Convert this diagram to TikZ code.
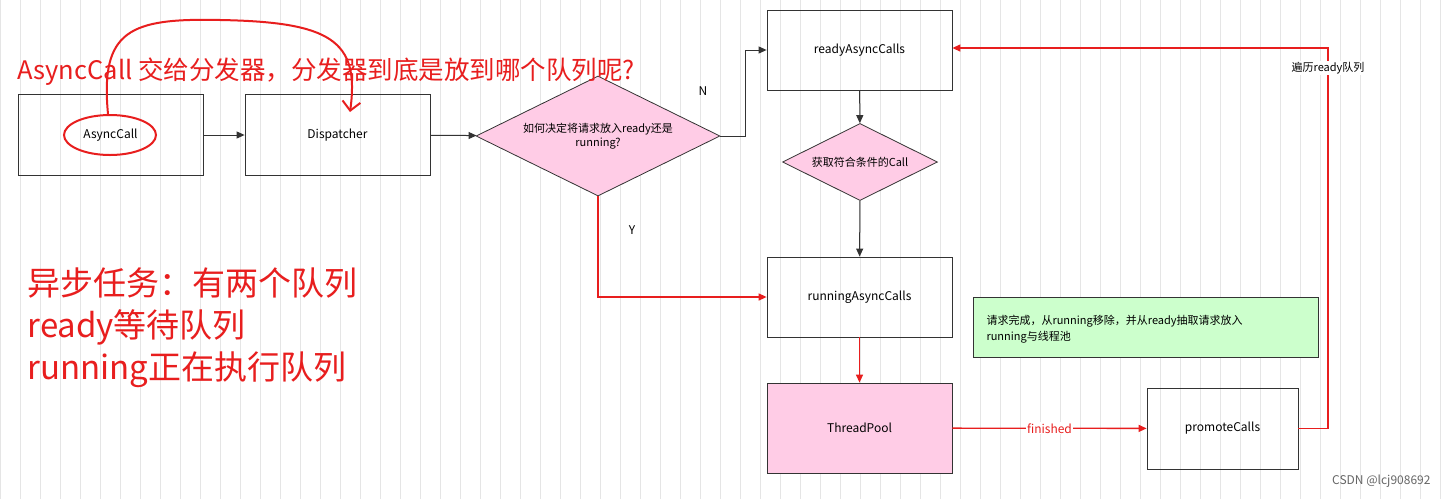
\documentclass[tikz,border=0pt]{standalone}
\usepackage{fontspec}
\setmainfont{Noto Sans CJK SC}
\usetikzlibrary{shapes.geometric,arrows.meta}
\definecolor{pinkf}{HTML}{FFCCE6}
\definecolor{greenf}{HTML}{CCFFCC}
\definecolor{rd}{HTML}{E81E1E}
\begin{document}
\begin{tikzpicture}[x=1pt,y=-1pt,
  box/.style={draw=black!80,line width=0.8pt,minimum width=185pt,minimum height=81pt,font=\fontsize{12}{14}\selectfont,inner sep=0pt},
  dia/.style={diamond,draw=black!80,line width=0.8pt,fill=pinkf,aspect=2,inner sep=0pt,font=\fontsize{11}{14}\selectfont,align=center},
  blk/.style={-{Triangle[length=8pt,width=7pt]},line width=1pt,black!80},
  red/.style={-{Triangle[length=8pt,width=7pt]},line width=1.3pt,rd},
  lbl/.style={font=\fontsize{12}{14}\selectfont,fill=white,inner sep=1pt},
  big/.style={text=rd,anchor=west,font=\fontsize{33}{36}\selectfont}]
\useasboundingbox (0,0) rectangle (1448,499);
\fill[white] (0,0) rectangle (1448,499);
\draw[black!10,line width=0.5pt] (0,0) grid[step=20] (1448,499);
\node[box] (async) at (110.5,135) {AsyncCall};
\draw[rd,line width=2pt] (110,135) ellipse [x radius=46,y radius=20];
\node[box] (disp) at (337.5,135) {Dispatcher};
\node[dia,minimum width=244pt,minimum height=120pt] (d1) at (598,136) {如何决定将请求放入ready还是\\running?};
\node[box,minimum height=80pt] (ready) at (859.5,50) {readyAsyncCalls};
\node[dia,minimum width=155pt,minimum height=77pt] (d2) at (860,162) {获取符合条件的Call};
\node[box,minimum height=80pt] (running) at (859.5,297) {runningAsyncCalls};
\node[box,fill=pinkf,minimum height=90pt] (pool) at (859.5,428) {ThreadPool};
\node[box,minimum width=151pt] (prom) at (1222.5,428.5) {promoteCalls};
\node[draw=black!80,fill=greenf,minimum width=345pt,minimum height=60pt,anchor=north west,inner sep=0pt] (note) at (973,297) {};
\node[anchor=north west,align=left,font=\fontsize{11}{16}\selectfont] (notet) at (983,312) {请求完成，从running移除，并从ready抽取请求放入\\running与线程池};
\draw[blk] (async) -- (disp);
\draw[blk] (disp) -- (d1);
\draw[blk] (d1.east) -- (745,136) -- (745,50) -- (ready.west);
\node[font=\fontsize{12}{14}\selectfont] (n) at (703,91) {N};
\draw[red] (d1.south) -- (598,297) -- (running.west);
\node[font=\fontsize{12}{14}\selectfont] (y) at (632,230) {Y};
\draw[blk] (ready) -- (d2);
\draw[blk] (d2) -- (running);
\draw[red] (running) -- (pool);
\draw[red] (pool) -- node[lbl]{finished} (prom);
\draw[red] (prom.east) -- (1328,428.5) -- (1328,48) -- (ready.east |- 0,48);
\node[lbl,font=\fontsize{11}{14}\selectfont] (tr) at (1328,68) {遍历ready队列};
\coordinate (c0) at (108,114);
\coordinate (c1) at (350,112);
\draw[rd,line width=2pt,-{Straight Barb[length=9pt]}] (c0) .. controls (100,30) and (130,18) .. (220,20) .. controls (330,22) and (360,40) .. (c1);
\node[anchor=west,text=rd,font=\fontsize{25.5}{28}\selectfont] (title) at (14,72) {AsyncCall 交给分发器，分发器到底是放到哪个队列呢?};
\node[big] (l1) at (24,283) {异步任务：有两个队列};
\node[big] (l2) at (24,327) {ready等待队列};
\node[big] (l3) at (24,370) {running正在执行队列};
\node[anchor=east,text=black!60,font=\fontsize{12}{14}\selectfont] (wm) at (1434,481) {CSDN @lcj908692};
\end{tikzpicture}
\end{document}
